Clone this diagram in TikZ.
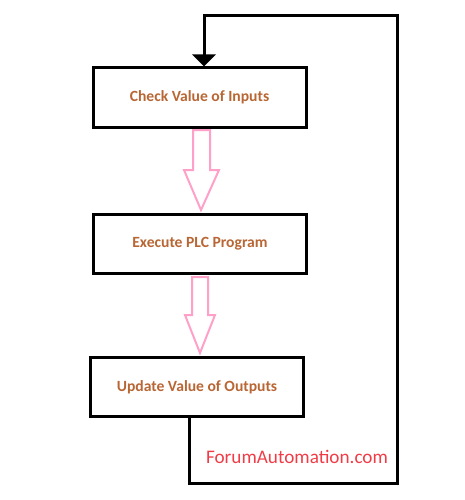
\documentclass[tikz,border=0pt]{standalone}
\usepackage{fontspec}
\setmainfont{Carlito}
\usetikzlibrary{arrows.meta}
\definecolor{txtbrown}{RGB}{184,102,52}
\definecolor{pinkarr}{RGB}{255,160,200}
\definecolor{wmred}{RGB}{240,60,70}
\begin{document}
\begin{tikzpicture}[x=1pt,y=-1pt,
  stepbox/.style={draw=black,line width=3pt,minimum width=213pt,minimum height=59pt,inner sep=0pt,
    font=\fontsize{15.6}{18}\selectfont\bfseries,text=txtbrown},
  loop/.style={draw=black,line width=3pt},
  hollow/.style={draw=pinkarr,line width=2pt,line join=miter}]
\useasboundingbox (0,0) rectangle (464,500);
\node[stepbox] (b1) at (199.5,97.5) {Check Value of Inputs};
\node[stepbox] (b2) at (200,244) {Execute PLC Program};
\node[stepbox] (b3) at (197,387) {Update Value of Outputs};
\coordinate (c1) at (189,483);
\coordinate (c2) at (397,483);
\coordinate (c3) at (397,16);
\coordinate (c4) at (204,16);
\draw[loop,-{Triangle[width=23pt,length=12pt]}] (b3.south -| c1) -- (c1) -- (c2) -- (c3) -- (c4) -- (b1.north -| c4);
% hollow arrows
\draw[hollow] (193,130) -- (193,170) -- (184,170) -- (201,210) -- (219,170) -- (210,170) -- (210,130) -- cycle;
\draw[hollow] (192,277) -- (192,315) -- (185,315) -- (200,353) -- (215,315) -- (208,315) -- (208,277) -- cycle;
\node[font=\fontsize{19.2}{22}\selectfont,text=wmred] (wm) at (297,457) {ForumAutomation.com};
\end{tikzpicture}
\end{document}
